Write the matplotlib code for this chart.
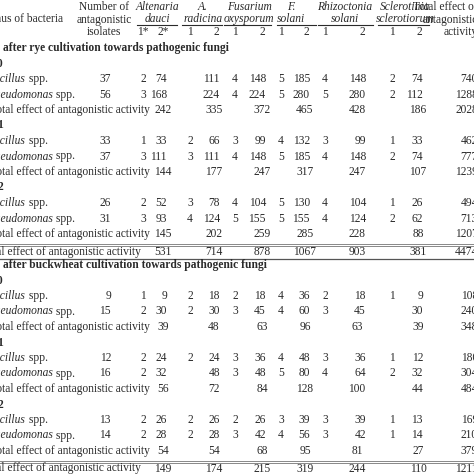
import matplotlib.pyplot as plt

plt.rcParams['font.family'] = ['Liberation Serif', 'DejaVu Serif']

fungi = [("Altenaria", "dauci"), ("A.", "radicina"), ("Fusarium", "oxysporum"),
         ("F.", "solani"), ("Rhizoctonia", "solani"), ("Sclerotinia", "sclerotiorum")]
sub_labels = ["1*", "2*", "1", "2", "1", "2", "1", "2", "1", "2", "1", "2"]
sections = ["after rye cultivation towards pathogenic fungi",
            "after buckwheat cultivation towards pathogenic fungi"]
groups = ["0", "1", "2"]

# per section, per group: (isolates, 12 values, total) for Bacillus and Pseudomonas
bac_rye = [(37, [2, 74, None, 111, 4, 148, 5, 185, 4, 148, 2, 74], 740),
           (33, [1, 33, 2, 66, 3, 99, 4, 132, 3, 99, 1, 33], 462),
           (26, [2, 52, 3, 78, 4, 104, 5, 130, 4, 104, 1, 26], 494)]
pse_rye = [(56, [3, 168, None, 224, 4, 224, 5, 280, 5, 280, 2, 112], 1288),
           (37, [3, 111, 3, 111, 4, 148, 5, 185, 4, 148, 2, 74], 777),
           (31, [3, 93, 4, 124, 5, 155, 5, 155, 4, 124, 2, 62], 713)]
tot_rye = [[242, 335, 372, 465, 428, 186, 2028],
           [144, 177, 247, 317, 247, 107, 1239],
           [145, 202, 259, 285, 228, 88, 1207]]
grand_rye = [531, 714, 878, 1067, 903, 381, 4474]

bac_buck = [(9, [1, 9, 2, 18, 2, 18, 4, 36, 2, 18, 1, 9], 108),
            (12, [2, 24, 2, 24, 3, 36, 4, 48, 3, 36, 1, 12], 180),
            (13, [2, 26, 2, 26, 2, 26, 3, 39, 3, 39, 1, 13], 169)]
pse_buck = [(15, [2, 30, 2, 30, 3, 45, 4, 60, 3, 45, None, 30], 240),
            (16, [2, 32, None, 48, 3, 48, 5, 80, 4, 64, 2, 32], 304),
            (14, [2, 28, 2, 28, 3, 42, 4, 56, 3, 42, 1, 14], 210)]
tot_buck = [[39, 48, 63, 96, 63, 39, 348],
            [56, 72, 84, 128, 100, 44, 484],
            [54, 54, 68, 95, 81, 27, 379]]
grand_buck = [149, 174, 215, 319, 244, 110, 1211]

# column layout (pixels)
x1 = [143, 190, 235, 281, 325, 392]        # count columns (centered)
x2 = [167, 220, 266, 310, 366, 423]        # value columns (right aligned)
xc = [163, 214, 262, 305, 357, 418]        # centers for subtotals
xh = [157, 203, 249, 291, 345, 405]        # fungus header centers
ul = [(137, 177), (182, 222), (224, 271), (277, 316), (318, 373), (378, 429)]
x_iso, x_tot = 111, 478

fig = plt.figure(figsize=(4.74, 4.74), dpi=100)
ax = fig.add_axes([0, 0, 1, 1])
ax.set_xlim(0, 474)
ax.set_ylim(474, 0)
ax.axis('off')
fs = 8.3
col = '#2a2a2a'


def txt(x, y, s, ha='left', **kw):
    return ax.text(x, y + 3, s, ha=ha, va='baseline', fontsize=fs, color=col, **kw)


fig.canvas.draw()
rend = fig.canvas.get_renderer()


def species(x, y, name):
    t = txt(x, y, name, style='italic')
    bb = t.get_window_extent(rend)
    xe = ax.transData.inverted().transform((bb.x1, 0))[0]
    txt(xe, y, " spp.")


# header
txt(-18, 19, "Genus of bacteria")
for i, s in enumerate(["Number of", "antagonistic", "isolates"]):
    txt(104, 7 + 12.5 * i, s, ha='center')
for (a, b), c, (u0, u1) in zip(fungi, xh, ul):
    txt(c, 7, a, ha='center', style='italic')
    txt(c, 19, b, ha='center', style='italic')
    ax.plot([u0, u1], [25, 25], color=col, lw=0.8)
for i, s in enumerate(sub_labels):
    k = i // 2
    txt(x1[k] if i % 2 == 0 else x2[k] - 4, 32, s, ha='center')
for i, s in enumerate(["Total effect of", "antagonistic", "activity"]):
    txt(x_tot, 7 + 12.5 * i, s, ha='right')


def data_row(y, iso, vals, total):
    txt(x_iso, y, str(iso), ha='right')
    for k in range(6):
        if vals[2 * k] is not None:
            txt(x1[k], y, str(vals[2 * k]), ha='center')
        if vals[2 * k + 1] is not None:
            txt(x2[k], y, str(vals[2 * k + 1]), ha='right')
    txt(x_tot, y, str(total), ha='right')


def total_row(y, vals, x0, label="Total effect of antagonistic activity"):
    txt(x0, y, label)
    for k in range(6):
        txt(xc[k], y, str(vals[k]), ha='center')
    txt(x_tot, y, str(vals[6]), ha='right')


blocks = [(48, bac_rye, pse_rye, tot_rye, grand_rye),
          (265, bac_buck, pse_buck, tot_buck, grand_buck)]
for si, (y0, bac, pse, tot, grand) in enumerate(blocks):
    txt(3, y0, sections[si], fontweight='bold')
    y = y0 + 15.5
    for g in range(3):
        txt(-3, y, groups[g], fontweight='bold')
        species(-12, y + 15.5, "Bacillus")
        data_row(y + 15.5, *bac[g])
        species(-11, y + 31, "Pseudomonas")
        data_row(y + 31, *pse[g])
        total_row(y + 46.5, tot[g], -10)
        y += 62
    yl = y - 6
    ax.plot([0, 474], [yl, yl], color='#888888', lw=0.7)
    ax.plot([0, 474], [yl + 2, yl + 2], color='#888888', lw=0.7)
    total_row(yl + 8, grand, -19)
    if si == 0:
        ax.plot([0, 474], [yl + 15, yl + 15], color='#555555', lw=0.9)

fig.savefig('out.png', dpi=100)
